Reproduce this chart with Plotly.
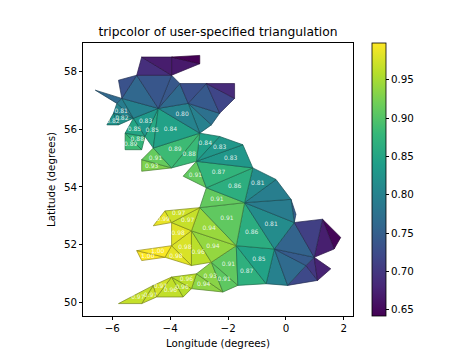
import plotly.graph_objects as go
from plotly.colors import sample_colorscale

lon = [-5.787,-4.584,-3.953,-3.094,-2.578,-3.266,-4.183,-4.985,-5.157,-3.953,
       -3.953,-4.584,-4.183,-2.979,-2.750,-3.552,-3.094,-3.953,-4.985,-4.985,
       -4.584,-4.870,-4.985,-5.558,-5.558,-5.271,-5.787,-6.188,-5.959,-5.844,
       -6.589,-5.672,-5.787,-5.157,-4.985,-3.953,-2.979,-2.979,-3.953,-3.667,
       -2.750,-1.776,-1.776,-2.292,-2.578,-2.979,-2.292,-1.490,-1.146,-0.344,
       0.172,0.344,0.286,1.261,1.891,1.662,0.974,0.688,1.547,1.089,
       0.057,-0.688,-1.662,-2.177,-3.266,-3.552,-4.469,-4.985,-1.719,-0.401,
       -3.266,-1.432,-4.412,-3.380]
lat = [49.962,50.592,50.879,50.993,51.394,51.280,51.566,51.452,51.795,51.967,
       52.769,52.655,53.171,53.285,53.973,54.374,54.889,54.660,54.545,54.946,
       55.348,55.749,55.291,55.291,55.863,56.379,56.150,56.150,56.551,56.895,
       57.353,57.067,57.697,57.869,58.499,58.499,58.556,58.269,57.869,57.582,
       57.582,57.582,57.067,56.551,56.150,55.863,55.749,55.462,54.660,54.259,
       53.572,53.056,52.769,52.884,52.254,51.852,51.566,51.280,51.166,50.764,
       50.592,50.649,50.592,50.363,50.478,50.191,50.191,49.962,51.967,51.852,
       52.483,53.457,56.723,56.895]
triangles = [
    [67,66,1],[65,2,66],[1,66,2],[64,2,65],[63,3,64],[60,59,57],[2,64,3],[3,63,4],
    [0,67,1],[62,4,63],[57,59,56],[59,58,56],[61,60,69],[57,69,60],[4,62,68],[6,5,9],
    [61,68,62],[69,68,61],[9,5,70],[6,8,7],[4,70,5],[8,6,9],[56,69,57],[69,56,52],
    [70,10,9],[54,53,55],[56,55,53],[68,70,4],[52,56,53],[11,10,12],[69,71,68],[68,13,70],
    [10,70,13],[51,50,52],[13,68,71],[52,71,69],[12,10,13],[71,52,50],[71,14,13],[50,49,71],
    [49,48,71],[14,16,15],[14,71,48],[17,19,18],[17,20,19],[48,16,14],[48,47,16],[47,46,16],
    [16,46,45],[23,22,24],[21,24,22],[17,16,45],[20,17,45],[21,25,24],[27,26,28],[20,72,21],
    [25,21,72],[45,72,20],[25,28,26],[44,73,45],[72,45,73],[28,25,29],[29,25,31],[43,73,44],
    [73,43,40],[72,73,39],[72,31,25],[42,40,43],[31,30,29],[39,73,40],[42,41,40],[72,33,31],
    [32,31,33],[39,38,72],[33,72,38],[33,38,34],[37,35,38],[34,38,35],[35,37,36]]
face_values = [
    .969,.965,.975,.959,.936,.721,.962,.934,.967,.908,.700,.676,.798,.765,.909,.984,
    .868,.846,.978,.998,.961,.996,.744,.756,.982,.646,.672,.940,.710,.987,.863,.943,
    .968,.748,.909,.814,.972,.791,.911,.794,.813,.911,.865,.928,.913,.874,.830,.830,
    .842,.885,.876,.882,.885,.851,.824,.855,.832,.845,.823,.798,.801,.805,.793,.774,
    .742,.763,.799,.718,.762,.729,.686,.761,.733,.740,.738,.690,.667,.670,.642]
colorbar_ticks = [0.65,0.70,0.75,0.80,0.85,0.90,0.95]
label_min = 0.8

zmin, zmax = min(face_values), max(face_values)
colors = sample_colorscale("Viridis", [(v-zmin)/(zmax-zmin) for v in face_values])

def darker(c, f=0.6):
    r, g, b = [float(p) for p in c[c.index("(")+1:c.index(")")].split(",")[:3]]
    return f"rgb({r*f:.0f},{g*f:.0f},{b*f:.0f})"

fig = go.Figure()
for tri, c in zip(triangles, colors):
    xs = [lon[i] for i in tri]
    ys = [lat[i] for i in tri]
    fig.add_trace(go.Scatter(x=xs+xs[:1], y=ys+ys[:1], mode="lines", fill="toself",
                             fillcolor=c, line=dict(color=darker(c), width=0.7),
                             hoverinfo="skip", showlegend=False))

mx = [sum(lon[i] for i in t)/3 for t in triangles]
my = [sum(lat[i] for i in t)/3 for t in triangles]
lab = [(a,b,v) for a,b,v in zip(mx,my,face_values) if v >= label_min]
fig.add_trace(go.Scatter(x=[p[0] for p in lab], y=[p[1] for p in lab], mode="text",
                         text=[f"{p[2]:.2f}" for p in lab],
                         textfont=dict(color="rgba(255,255,255,0.85)", size=6, family="DejaVu Sans"),
                         textposition="middle center", showlegend=False, hoverinfo="skip"))
fig.add_trace(go.Scatter(x=mx, y=my, mode="markers", showlegend=False, hoverinfo="skip",
    marker=dict(size=0.1, opacity=0, color=face_values, colorscale="Viridis", cmin=zmin, cmax=zmax,
        showscale=True,
        colorbar=dict(x=372/474, xanchor="left", xref="paper", y=(355-316)/355, yanchor="bottom", yref="paper",
                      len=273/355, lenmode="fraction", thickness=14, thicknessmode="pixels",
                      xpad=0, ypad=0,
                      outlinewidth=0.8, outlinecolor="black", tickvals=colorbar_ticks,
                      ticktext=[f"{t:.2f}" for t in colorbar_ticks],
                      ticks="outside", ticklen=3, tickwidth=0.6, tickcolor="black",
                      tickfont=dict(size=10.3, color="black", family="DejaVu Sans")))))

axis = dict(showgrid=False, zeroline=False, showline=True, mirror=True, linecolor="black", linewidth=0.6,
            ticks="outside", ticklen=3, tickwidth=0.6, tickcolor="black",
            tickfont=dict(size=10.3, color="black"))
fig.update_xaxes(axis, range=[-7.013,2.315], tickvals=[-6,-4,-2,0,2], ticktext=["−6","−4","−2","0","2"],
                 domain=[83/474,353/474], title=dict(text="Longitude (degrees)", font=dict(size=10.3,color="black"), standoff=6))
fig.update_yaxes(axis, range=[49.532,58.986], tickvals=[50,52,54,56,58],
                 domain=[(355-316)/355,(355-43)/355], title=dict(text="Latitude (degrees)", font=dict(size=10.3,color="black"), standoff=6))
fig.update_layout(width=474, height=355, margin=dict(l=0,r=0,t=0,b=0), plot_bgcolor="white", paper_bgcolor="white",
                  font=dict(family="DejaVu Sans"),
                  title=dict(text="tripcolor of user-specified triangulation", font=dict(size=12.3,color="black"),
                             x=218/474, xanchor="center", y=(355-32)/355, yanchor="middle"))
fig.write_html("out.html", config=dict(displayModeBar=False),
               post_script="document.body.style.margin='0';document.body.style.overflow='hidden';")
